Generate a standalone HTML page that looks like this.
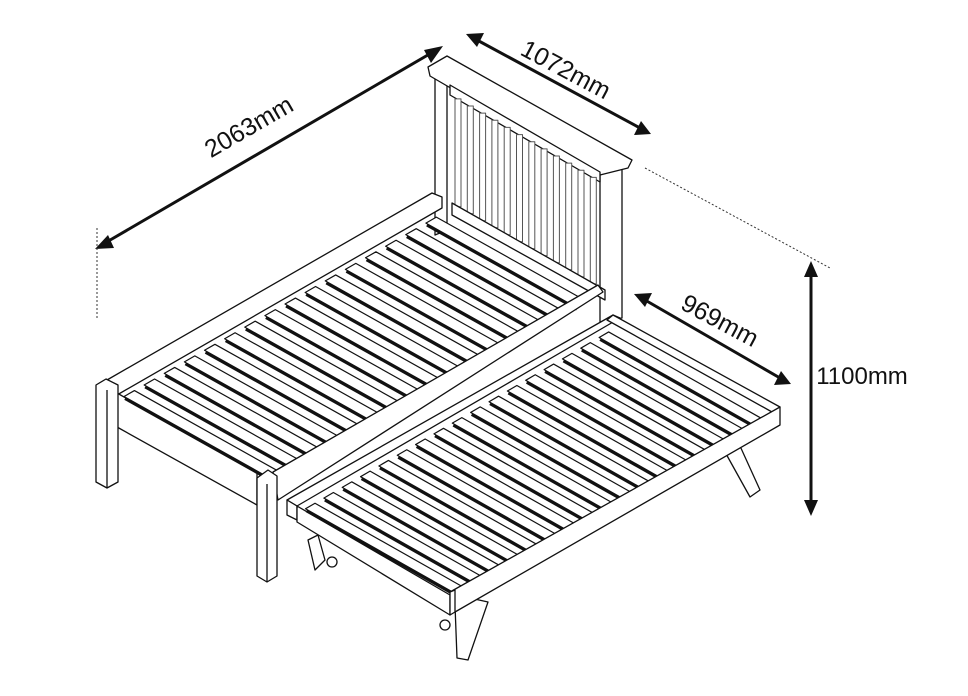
<!DOCTYPE html>
<html><head><meta charset="utf-8"><style>
html,body{margin:0;padding:0;background:#fff;width:968px;height:696px;overflow:hidden}
svg{display:block}
text{font-family:"Liberation Sans",Arial,sans-serif;fill:#111}
</style></head><body>
<svg id="s" width="968" height="696" viewBox="0 0 968 696" xmlns="http://www.w3.org/2000/svg">
<g fill="#fff" stroke="#111" stroke-width="1.3" stroke-linejoin="round">
<!-- headboard -->
<polygon points="435,75 447,70 447,230 435,235"/>
<polygon points="600,168 622,160 622,318 600,322"/>
<polygon points="428,67 447,56 632,160 628,168 600,175 430,76"/>
<polygon points="450,85 600,172 600,182 450,95"/>
<g id="hbslats"></g>
<polygon points="452,203 605,290 605,300 452,215"/>
<!-- main bed left rail -->
<polygon points="107,380 432,193 442,197 442,208 117,395 107,390"/>
<!-- foot rail -->
<polygon points="117,393 257,473 257,505 117,427"/>
<!-- left post -->
<polygon points="96,385 106,379 118,385 118,482 107,488 96,482"/>
<line x1="107" y1="390" x2="107" y2="488"/>
<g id="mslats"></g>
<polygon points="273,472 598,285 603,292 278,500"/>
<!-- front right post -->
<polygon points="257,478 268,470 277,476 277,576 267,582 257,576"/>
<line x1="267" y1="484" x2="267" y2="582"/>
<!-- trundle legs -->
<polygon points="725,452 740,446 760,490 750,497"/>
<polygon points="455,605 470,598 488,602 468,660 457,658"/>
<polygon points="308,540 318,535 325,560 315,570"/>
<!-- trundle frame -->
<polygon points="287,500 613,315 620,318 297,506"/>
<polygon points="613,315 780,407 772,412 607,320"/>
<polygon points="287,500 297,506 297,520 287,515"/>
<polygon points="297,506 450,595 450,615 297,522"/>
<g id="tslats"></g>
<polygon points="450,592 780,407 780,425 455,612"/>
<polygon points="450,592 455,590 455,612 450,615"/>
<circle cx="332" cy="562" r="5"/>
<circle cx="445" cy="625" r="5"/>
</g>
<!-- dimensions -->
<g stroke="#111" stroke-width="3" fill="none">
<line x1="105" y1="243" x2="433" y2="52"/>
<line x1="477" y1="40" x2="640" y2="128"/>
<line x1="645" y1="300" x2="780" y2="378"/>
<line x1="811" y1="272" x2="811" y2="505"/>
</g>
<g fill="#111">
<polygon points="95,249 108,235 114,248"/>
<polygon points="443,46 424,50 431,63"/>
<polygon points="466,34 484,33 477,47"/>
<polygon points="651,134 634,135 641,121"/>
<polygon points="634,294 652,293 645,307"/>
<polygon points="791,384 774,385 781,371"/>
<polygon points="811,261 804,277 818,277"/>
<polygon points="811,516 804,500 818,500"/>
</g>
<g stroke="#333" stroke-width="1" stroke-dasharray="2,2" fill="none">
<line x1="97" y1="228" x2="97" y2="318"/>
<line x1="645" y1="168" x2="830" y2="268"/>
</g>
<text x="253" y="134" font-size="25" text-anchor="middle" transform="rotate(-30 253 134)">2063mm</text>
<text x="562" y="77" font-size="25" text-anchor="middle" transform="rotate(28 562 77)">1072mm</text>
<text x="716" y="328" font-size="25" text-anchor="middle" transform="rotate(28 716 328)">969mm</text>
<text x="862" y="384" font-size="24" text-anchor="middle">1100mm</text>
</svg>
<script>
var NS="http://www.w3.org/2000/svg";
function el(p,t,a){var e=document.createElementNS(NS,t);for(var k in a)e.setAttribute(k,a[k]);p.appendChild(e);return e;}
var hb=document.getElementById('hbslats');
for(var i=0;i<12;i++){var x=455+i*12.3;var yt=88+(x-450)*0.58+8;var yb=205+(x-452)*0.57;
el(hb,'rect',{x:x,y:yt,width:6,height:yb-yt,fill:'#fff',stroke:'#555','stroke-width':1});}
function slats(gid,ax,ay,bx,by,dx,dy,n,w){
 var g=document.getElementById(gid);var ux=(bx-ax)/n,uy=(by-ay)/n;var L=Math.hypot(ux,uy);var ex=ux/L*w,ey=uy/L*w;
 for(var i=0;i<n;i++){var px=ax+ux*(i+0.3),py=ay+uy*(i+0.3);
  el(g,'polygon',{points:[px,py,px+ex,py+ey,px+ex+dx,py+ey+dy,px+dx,py+dy].join(','),fill:'#fff',stroke:'#111','stroke-width':1.2});
  el(g,'line',{x1:px+1,y1:py+2,x2:px+dx+1,y2:py+dy+2,stroke:'#111','stroke-width':3});
 }}
slats('mslats',118,400,440,215,150,84,16,12);
slats('tslats',300,512,612,330,152,86,17,11);
</script>
</body></html>
